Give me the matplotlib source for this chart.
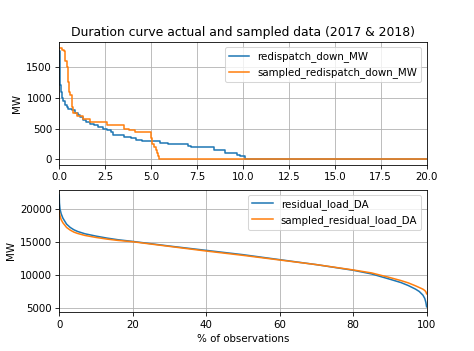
import matplotlib
matplotlib.use("Agg")
import matplotlib.pyplot as plt

# Top panel: redispatch duration curves (step breakpoints, % of observations -> MW)
redispatch_pct = [0, 0.03, 0.06, 0.1, 0.15, 0.2, 0.3, 0.4, 0.5, 0.7, 0.85, 1.0, 1.15, 1.3,
                  1.45, 1.7, 1.9, 2.1, 2.4, 2.6, 2.8, 2.9, 3.5, 3.9, 4.2, 4.5, 5.3, 5.5,
                  5.9, 7.0, 7.2, 8.4, 9.0, 9.7, 9.85, 10.1, 100]
redispatch_mw = [1750, 1400, 1200, 1100, 1000, 950, 880, 850, 820, 800, 750, 720, 680, 640,
                 600, 570, 550, 520, 500, 470, 450, 400, 370, 350, 320, 300, 290, 270,
                 250, 220, 200, 150, 100, 75, 50, 0, 0]

sampled_redispatch_pct = [0, 0.15, 0.25, 0.3, 0.4, 0.5, 0.55, 0.6, 0.7, 0.75, 0.95, 1.3, 1.7,
                          2.6, 3.5, 3.8, 4.1, 5.0, 5.05, 5.15, 5.25, 5.3, 5.35, 5.45, 100]
sampled_redispatch_mw = [1810, 1780, 1750, 1600, 1500, 1250, 1100, 1050, 850, 750, 700, 650, 600,
                         550, 500, 480, 450, 350, 250, 200, 150, 100, 50, 0, 0]

# Bottom panel: residual load duration curves
resid_pct = [0, 0.05, 0.2, 0.5, 1, 2, 3, 4, 5, 7, 10, 13, 16, 20, 25, 30, 40, 50, 60, 70,
             80, 85, 90, 93, 95, 97, 98, 99, 99.5, 99.8, 100]
residual_load = [22080, 20900, 20000, 19300, 18600, 17700, 17200, 16850, 16600, 16250, 15900,
                 15600, 15350, 15100, 14750, 14400, 13750, 13100, 12350, 11600, 10750, 10200,
                 9400, 8900, 8450, 7900, 7550, 7000, 6500, 5900, 5240]
sampled_residual_load = [19700, 19400, 19000, 18400, 17900, 17200, 16800, 16500, 16300, 16000,
                         15700, 15450, 15250, 15050, 14700, 14350, 13650, 13000, 12300, 11600,
                         10800, 10350, 9650, 9200, 8850, 8400, 8150, 7900, 7700, 7500, 7200]

dpi = 74
fig, (ax1, ax2) = plt.subplots(2, 1, figsize=(474 / dpi, 351 / dpi), dpi=dpi)

ax1.plot(redispatch_pct, redispatch_mw, drawstyle="steps-post", label="redispatch_down_MW")
ax1.plot(sampled_redispatch_pct, sampled_redispatch_mw, drawstyle="steps-post",
         label="sampled_redispatch_down_MW")
ax1.set_xlim(0, 20)
ax1.set_ylabel("MW")
ax1.set_title("Duration curve actual and sampled data (2017 & 2018)")
ax1.grid(True)
ax1.legend(loc="upper right")

ax2.plot(resid_pct, residual_load, label="residual_load_DA")
ax2.plot(resid_pct, sampled_residual_load, label="sampled_residual_load_DA")
ax2.set_xlim(0, 100)
ax2.set_ylabel("MW")
ax2.set_xlabel("% of observations")
ax2.grid(True)
ax2.legend(loc="upper right")

fig.savefig("out.png", dpi=dpi)
